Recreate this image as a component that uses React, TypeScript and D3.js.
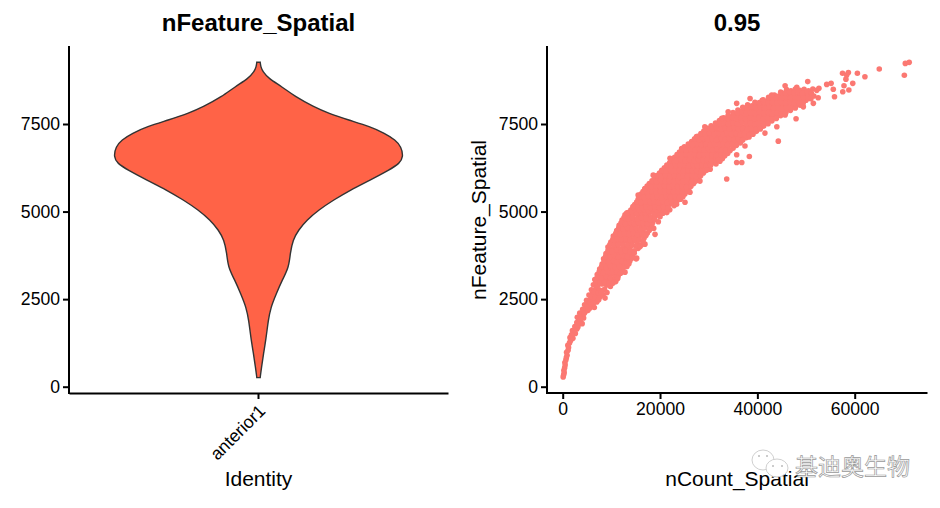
import { useEffect, useRef } from 'react';
import * as d3 from 'd3';

const groupLabels = ['anterior1'];
const yTicks = [0, 2500, 5000, 7500];
const xTicks = [0, 20000, 40000, 60000];

// violin outline: nFeature level and relative width
const violinFeature = [9265, 9259, 9136, 8993, 8803, 8565, 8279, 7994, 7804, 7613, 7423, 7233, 7042, 6852, 6566, 6376, 6186, 5901, 5615, 5330, 5044, 4759, 4473, 4188, 3808, 3408, 3027, 2646, 2266, 1885, 1409, 933, 553, 267, 260];
const violinDensity = [0.012, 0.012, 0.016, 0.03, 0.07, 0.164, 0.257, 0.386, 0.491, 0.631, 0.783, 0.885, 0.96, 1.0, 1.015, 0.99, 0.915, 0.783, 0.643, 0.526, 0.421, 0.339, 0.28, 0.241, 0.222, 0.213, 0.164, 0.124, 0.086, 0.068, 0.054, 0.035, 0.021, 0.012, 0.012];

// scatter spots as [nCount, nFeature]
const spotsLow = [
  [100, 280], [200, 340], [300, 400], [250, 470], [400, 540], [500, 620], [450, 690], [650, 760], [750, 830], [900, 900], [800, 980], [1100, 1040], [1200, 1120], [1050, 1180], [1400, 1250], [1600, 1310], [1500, 1400], [1900, 1460], [2100, 1380], [2200, 1540], [2000, 1600], [2600, 1520], [2900, 1650], [2500, 1720], [3100, 1700], [3300, 1780], [2900, 1830], [3600, 1850], [4000, 1800], [3300, 1950], [3000, 1980], [3900, 2000], [4300, 1960], [3500, 2100], [4600, 2130], [4100, 2210], [4900, 2230], [5600, 2250], [4500, 2340], [5200, 2390], [6000, 2350], [6500, 2260], [4900, 2470], [5700, 2500], [6400, 2480], [7000, 2420], [5400, 2620], [6100, 2660], [7000, 2600], [7700, 2570], [8300, 2620], [8700, 2530], [5900, 2770], [6800, 2790], [7600, 2760], [8600, 2780], [9100, 2690],
  [1800, 1480], [2400, 1620], [3000, 1760], [3700, 1930], [4000, 2100], [4400, 2090], [5200, 2180], [5000, 2310], [5600, 2400], [6300, 2380], [6000, 2570], [6700, 2530], [7400, 2480], [6500, 2700], [7300, 2680], [8000, 2690],
];
const spotsMid = [
  [6300, 2910], [7200, 2880], [8100, 2930], [9000, 2900], [9800, 2860],
  [6600, 3060], [7500, 3030], [8400, 3080], [9300, 3040], [10300, 3060], [10900, 3000],
  [7100, 3200], [7900, 3180], [8800, 3230], [9700, 3190], [10600, 3220], [11400, 3160],
  [7600, 3360], [8500, 3330], [9400, 3380], [10300, 3340], [11200, 3370], [12100, 3320], [12800, 3270],
  [8100, 3500], [9000, 3480], [9900, 3530], [10800, 3490], [11700, 3520], [12600, 3470], [13200, 3430],
  [8400, 3650], [9300, 3640], [10200, 3680], [11100, 3630], [12000, 3670], [12900, 3620], [13800, 3590], [15200, 3670],
  [8900, 3800], [9800, 3780], [10700, 3820], [11600, 3790], [12500, 3810], [13400, 3770], [14300, 3740], [15100, 3650],
  [9300, 3990], [10200, 3940], [11100, 3980], [12000, 3930], [12900, 3970], [13800, 3920], [14700, 3880], [15500, 3950],
  [9900, 4130], [10800, 4170], [11700, 4120], [12600, 4160], [13500, 4110], [14400, 4150], [15300, 4100], [16200, 4050], [16900, 4070],
  [10400, 4300], [11300, 4270], [12200, 4320], [13100, 4280], [14000, 4310], [14900, 4270], [15800, 4300], [16700, 4240],
  [11100, 4460], [12000, 4430], [12900, 4470], [13800, 4420], [14700, 4460], [15600, 4410], [16500, 4450], [17400, 4390], [18970, 4350],
  [11600, 4610], [12500, 4580], [13400, 4620], [14300, 4590], [15200, 4630], [16100, 4570], [17000, 4610], [17900, 4560], [18700, 4520],
  [12200, 4760], [13100, 4730], [14000, 4770], [14900, 4720], [15800, 4760], [16700, 4730], [17600, 4700], [18500, 4690], [19650, 4710],
  [12800, 4910], [13700, 4880], [14600, 4920], [15500, 4870], [16400, 4910], [17300, 4870], [18200, 4840], [19100, 4880], [20000, 4850],
];
const spotsMidInner = [
  [6800, 2970], [7700, 2960], [8600, 2990], [9500, 2960], [10300, 2950],
  [7100, 3120], [8000, 3110], [8900, 3140], [9800, 3110], [10800, 3130], [11300, 3090],
  [7500, 3280], [8400, 3260], [9300, 3300], [10200, 3270], [11100, 3290], [11900, 3240],
  [8000, 3430], [8900, 3410], [9800, 3450], [10700, 3420], [11600, 3440], [12500, 3400],
  [8500, 3570], [9400, 3560], [10300, 3600], [11200, 3560], [12100, 3590], [13000, 3540], [13600, 3510],
  [8800, 3720], [9700, 3710], [10600, 3750], [11500, 3710], [12400, 3740], [13300, 3700], [14200, 3670],
  [9300, 3890], [10200, 3860], [11100, 3900], [12000, 3860], [12900, 3890], [13800, 3850], [14700, 3810],
  [9700, 4060], [10600, 4050], [11500, 4050], [12400, 4050], [13300, 4040], [14200, 4030], [15100, 4020], [15900, 4000],
  [10300, 4210], [11200, 4220], [12100, 4210], [13000, 4220], [13900, 4200], [14800, 4210], [15700, 4190], [16500, 4150],
  [10900, 4380], [11800, 4350], [12700, 4390], [13600, 4350], [14500, 4380], [15400, 4340], [16300, 4370], [17100, 4320],
  [11500, 4530], [12400, 4500], [13300, 4540], [14200, 4500], [15100, 4540], [16000, 4490], [16900, 4530], [17800, 4470],
  [12000, 4680], [12900, 4650], [13800, 4690], [14700, 4650], [15600, 4690], [16500, 4650], [17400, 4650], [18300, 4620],
  [12600, 4830], [13500, 4800], [14400, 4840], [15300, 4790], [16200, 4830], [17100, 4800], [18000, 4770], [18900, 4780],
  [13400, 4970], [14300, 4980], [15200, 4950], [16100, 4980], [17000, 4950], [17900, 4970], [18800, 4950], [19700, 4960], [20600, 4950], [21400, 4970],
];
const spotsUpper = [
  [14000, 5040], [14900, 5070], [15800, 5030], [16700, 5060], [17600, 5020], [18500, 5070], [19400, 5030], [20300, 5060], [21200, 5020], [22000, 5050],
  [14800, 5200], [15700, 5170], [16600, 5220], [17500, 5180], [18400, 5210], [19300, 5170], [20200, 5220], [21100, 5180], [22000, 5210], [22900, 5170],
  [15500, 5350], [16400, 5320], [17300, 5370], [18200, 5330], [19100, 5360], [20000, 5320], [20900, 5370], [21800, 5330], [22700, 5360], [23600, 5320], [24200, 5350],
  [16100, 5500], [17000, 5470], [17900, 5520], [18800, 5480], [19700, 5510], [20600, 5470], [21500, 5520], [22400, 5480], [23300, 5510], [24200, 5470], [25100, 5500],
  [16900, 5650], [17800, 5620], [18700, 5670], [19600, 5630], [20500, 5660], [21400, 5620], [22300, 5670], [23200, 5630], [24100, 5660], [25000, 5620], [25900, 5650],
  [17800, 5800], [18700, 5770], [19600, 5820], [20500, 5780], [21400, 5810], [22300, 5770], [23200, 5820], [24100, 5780], [25000, 5810], [25900, 5770], [26900, 5800],
  [18900, 5950], [19800, 5920], [20700, 5970], [21600, 5930], [22500, 5960], [23400, 5920], [24300, 5970], [25200, 5930], [26100, 5960], [27000, 5920], [27900, 5950],
  [19900, 6100], [20800, 6070], [21700, 6120], [22600, 6080], [23500, 6110], [24400, 6070], [25300, 6120], [26200, 6080], [27100, 6110], [28000, 6070], [28900, 6100],
  [20900, 6250], [21800, 6220], [22700, 6270], [23600, 6230], [24500, 6260], [25400, 6220], [26300, 6270], [27200, 6230], [28100, 6260], [29000, 6220], [29900, 6250], [30300, 6210],
  [22000, 6400], [22900, 6370], [23800, 6420], [24700, 6380], [25600, 6410], [26500, 6370], [27400, 6420], [28300, 6380], [29200, 6410], [30100, 6370], [31000, 6400], [31500, 6360],
  [23000, 6550], [23900, 6520], [24800, 6570], [25700, 6530], [26600, 6560], [27500, 6520], [28400, 6570], [29300, 6530], [30200, 6560], [31100, 6520], [32000, 6550], [32800, 6510],
  [24000, 6700], [24900, 6670], [25800, 6720], [26700, 6680], [27600, 6710], [28500, 6670], [29400, 6720], [30300, 6680], [31200, 6710], [32100, 6670], [33000, 6700], [33900, 6660],
  [25000, 6850], [25900, 6820], [26800, 6870], [27700, 6830], [28600, 6860], [29500, 6820], [30400, 6870], [31300, 6830], [32200, 6860], [33100, 6820], [34000, 6850], [35000, 6810],
  [26500, 7000], [27400, 6970], [28300, 7020], [29200, 6980], [30100, 7010], [31000, 6970], [31900, 7020], [32800, 6980], [33700, 7010], [34600, 6970], [35500, 7000], [36500, 6960],
  [27800, 7150], [28700, 7120], [29600, 7170], [30500, 7130], [31400, 7160], [32300, 7120], [33200, 7170], [34100, 7130], [35000, 7160], [35900, 7120], [36800, 7150], [37700, 7110], [38300, 7130],
  [29000, 7300], [29900, 7270], [30800, 7320], [31700, 7280], [32600, 7310], [33500, 7270], [34400, 7320], [35300, 7280], [36200, 7310], [37100, 7270], [38000, 7300], [38900, 7260], [39800, 7290],
  [30500, 7450], [31400, 7420], [32300, 7470], [33200, 7430], [34100, 7460], [35000, 7420], [35900, 7470], [36800, 7430], [37700, 7460], [38600, 7420], [39500, 7450], [40400, 7410], [41300, 7440],
  [32200, 7600], [33100, 7570], [34000, 7620], [34900, 7580], [35800, 7610], [36700, 7570], [37600, 7620], [38500, 7580], [39400, 7610], [40300, 7570], [41200, 7600], [42100, 7560], [43000, 7590],
  [34000, 7750], [34900, 7720], [35800, 7770], [36700, 7730], [37600, 7760], [38500, 7720], [39400, 7770], [40300, 7730], [41200, 7760], [42100, 7720], [43000, 7750], [43900, 7710], [44800, 7740],
  [36000, 7900], [36900, 7870], [37800, 7920], [38700, 7880], [39600, 7910], [40500, 7870], [41400, 7920], [42300, 7880], [43200, 7910], [44100, 7870], [45000, 7900], [45900, 7860], [46800, 7890],
  [38000, 8050], [38900, 8020], [39800, 8070], [40700, 8030], [41600, 8060], [42500, 8020], [43400, 8070], [44300, 8030], [45200, 8060], [46100, 8020], [47000, 8050], [47900, 8010], [48800, 8040],
  [41000, 8180], [41900, 8150], [42800, 8200], [43700, 8160], [44600, 8190], [45500, 8150], [46400, 8200], [47300, 8160], [48200, 8190], [49100, 8150], [50000, 8180],
  [43500, 8330], [44400, 8300], [45300, 8350], [46200, 8310], [47100, 8340], [48000, 8300], [48900, 8350], [49800, 8310], [50700, 8340], [51600, 8300],
  [46000, 8480], [46900, 8450], [47800, 8500], [48700, 8460], [49600, 8490], [50500, 8450], [51400, 8500], [52200, 8460],
];
const spotsUpperInner = [
  [14450, 5120], [15350, 5130], [16250, 5110], [17150, 5130], [18050, 5110], [18950, 5130], [19850, 5110], [20750, 5130], [21650, 5110],
  [15200, 5275], [16100, 5260], [17000, 5290], [17900, 5260], [18800, 5280], [19700, 5260], [20600, 5290], [21500, 5260], [22400, 5280], [23300, 5250],
  [15850, 5425], [16750, 5410], [17650, 5440], [18550, 5410], [19450, 5430], [20350, 5400], [21250, 5440], [22150, 5410], [23050, 5430], [23950, 5400], [24700, 5420],
  [16500, 5575], [17400, 5560], [18300, 5590], [19200, 5560], [20100, 5580], [21000, 5550], [21900, 5590], [22800, 5560], [23700, 5580], [24600, 5550], [25500, 5570],
  [17350, 5725], [18250, 5710], [19150, 5740], [20050, 5710], [20950, 5730], [21850, 5700], [22750, 5740], [23650, 5710], [24550, 5730], [25450, 5700], [26350, 5720],
  [18350, 5875], [19250, 5860], [20150, 5890], [21050, 5860], [21950, 5880], [22850, 5850], [23750, 5890], [24650, 5860], [25550, 5880], [26450, 5850], [27350, 5870],
  [19350, 6025], [20250, 6010], [21150, 6040], [22050, 6010], [22950, 6030], [23850, 6000], [24750, 6040], [25650, 6010], [26550, 6030], [27450, 6000], [28350, 6020],
  [20350, 6175], [21250, 6160], [22150, 6190], [23050, 6160], [23950, 6180], [24850, 6150], [25750, 6190], [26650, 6160], [27550, 6180], [28450, 6150], [29350, 6170],
  [21400, 6325], [22300, 6310], [23200, 6340], [24100, 6310], [25000, 6330], [25900, 6300], [26800, 6340], [27700, 6310], [28600, 6330], [29500, 6300], [30400, 6320],
  [22500, 6475], [23400, 6460], [24300, 6490], [25200, 6460], [26100, 6480], [27000, 6450], [27900, 6490], [28800, 6460], [29700, 6480], [30600, 6450], [31500, 6470], [32300, 6440],
  [23500, 6625], [24400, 6610], [25300, 6640], [26200, 6610], [27100, 6630], [28000, 6600], [28900, 6640], [29800, 6610], [30700, 6630], [31600, 6600], [32500, 6620], [33300, 6590],
  [24500, 6775], [25400, 6760], [26300, 6790], [27200, 6760], [28100, 6780], [29000, 6750], [29900, 6790], [30800, 6760], [31700, 6780], [32600, 6750], [33500, 6770], [34400, 6740],
  [25800, 6925], [26700, 6910], [27600, 6940], [28500, 6910], [29400, 6930], [30300, 6900], [31200, 6940], [32100, 6910], [33000, 6930], [33900, 6900], [34800, 6920], [35700, 6890],
  [27100, 7075], [28000, 7060], [28900, 7090], [29800, 7060], [30700, 7080], [31600, 7050], [32500, 7090], [33400, 7060], [34300, 7080], [35200, 7050], [36100, 7070], [37000, 7040],
  [28400, 7225], [29300, 7210], [30200, 7240], [31100, 7210], [32000, 7230], [32900, 7200], [33800, 7240], [34700, 7210], [35600, 7230], [36500, 7200], [37400, 7220], [38300, 7190], [39100, 7210],
  [29800, 7375], [30700, 7360], [31600, 7390], [32500, 7360], [33400, 7380], [34300, 7350], [35200, 7390], [36100, 7360], [37000, 7380], [37900, 7350], [38800, 7370], [39700, 7340], [40600, 7360],
  [31400, 7525], [32300, 7510], [33200, 7540], [34100, 7510], [35000, 7530], [35900, 7500], [36800, 7540], [37700, 7510], [38600, 7530], [39500, 7500], [40400, 7520], [41300, 7490], [42200, 7510],
  [33100, 7675], [34000, 7660], [34900, 7690], [35800, 7660], [36700, 7680], [37600, 7650], [38500, 7690], [39400, 7660], [40300, 7680], [41200, 7650], [42100, 7670], [43000, 7640], [43900, 7660],
  [35000, 7825], [35900, 7810], [36800, 7840], [37700, 7810], [38600, 7830], [39500, 7800], [40400, 7840], [41300, 7810], [42200, 7830], [43100, 7800], [44000, 7820], [44900, 7790], [45800, 7810],
  [37000, 7975], [37900, 7960], [38800, 7990], [39700, 7960], [40600, 7980], [41500, 7950], [42400, 7990], [43300, 7960], [44200, 7980], [45100, 7950], [46000, 7970], [46900, 7940], [47800, 7960],
  [39500, 8120], [40400, 8110], [41300, 8130], [42200, 8110], [43100, 8130], [44000, 8100], [44900, 8130], [45800, 8100], [46700, 8120], [47600, 8090], [48500, 8110], [49400, 8090],
  [42300, 8260], [43200, 8240], [44100, 8270], [45000, 8240], [45900, 8270], [46800, 8240], [47700, 8270], [48600, 8240], [49500, 8260], [50400, 8240], [51000, 8220],
  [44800, 8410], [45700, 8390], [46600, 8420], [47500, 8390], [48400, 8420], [49300, 8380], [50200, 8420], [51100, 8380],
];
// stray spots outside the main band, placed individually
const spotsEdge = [
  [14450, 5140], [13150, 4960], [15500, 5470], [16900, 5660], [18600, 6040], [22050, 6520], [24450, 6800], [27500, 7140], [29200, 7420], [32700, 7660], [34000, 7850], [35750, 8090], [38500, 8230], [41200, 8190], [42950, 8330], [45700, 8590], [48100, 8550], [50350, 8710],
  [25130, 5265], [23400, 5210], [26150, 5550], [28200, 5870], [33700, 5930], [29600, 6190], [32000, 6470], [35750, 6400], [36800, 6400], [35750, 6620], [38350, 6570], [37450, 6870], [44300, 7010], [41550, 7240], [44000, 7420], [45700, 7760], [47950, 7650], [49450, 7990], [51500, 8090], [52500, 8250],
  [52650, 8520], [54250, 8630], [55150, 8660], [55600, 8490], [55850, 8280], [57500, 8950], [58350, 8900], [58700, 8970], [58200, 8780], [57800, 8590], [57550, 8420], [58800, 8470], [59600, 8660], [60550, 8950], [62100, 8850], [65050, 9070], [70200, 8890], [70400, 9230], [71200, 9260],
];

const font = '"Liberation Sans", Arial, sans-serif';

export default function App() {
  const svgRef = useRef<SVGSVGElement>(null);

  useEffect(() => {
    if (!svgRef.current) return;
    const svg = d3.select(svgRef.current);
    svg.selectAll('*').remove();

    const y = d3.scaleLinear().domain([0, 7500]).range([386.7, 124]);
    const xScatter = d3.scaleLinear().domain([0, 60000]).range([562.7, 854.7]);
    const xViolin = d3.scaleBand().domain(groupLabels).range([69, 448]);
    const centre = (xViolin(groupLabels[0]) as number) + xViolin.bandwidth() / 2;
    const widthScale = d3.scaleLinear().domain([0, 1]).range([0, 142.7]);

    const styleAxis = (g: any) => {
      g.selectAll('.domain').attr('stroke', '#000').attr('stroke-width', 2);
      g.selectAll('.tick line').attr('stroke', '#000').attr('stroke-width', 2);
      g.selectAll('.tick text').attr('font-family', font).attr('font-size', 17.6).attr('fill', '#000');
    };

    // Left panel
    const violin = d3.area<number>()
      .x0((_, i) => centre - widthScale(violinDensity[i]))
      .x1((_, i) => centre + widthScale(violinDensity[i]))
      .y(d => y(d))
      .curve(d3.curveBasis);

    svg.append('path')
      .attr('d', violin(violinFeature))
      .attr('fill', '#FF6347')
      .attr('stroke', '#333')
      .attr('stroke-width', 1.4);

    const yAxisLeft = svg.append('g')
      .attr('transform', 'translate(69,0)')
      .call(d3.axisLeft(y).tickValues(yTicks).tickFormat(d3.format('d') as any).tickSize(6).tickSizeOuter(0));
    yAxisLeft.select('.domain').attr('d', 'M0,46V394');
    styleAxis(yAxisLeft);

    const xAxisLeft = svg.append('g')
      .attr('transform', 'translate(0,393)')
      .call(d3.axisBottom(xViolin).tickSize(6).tickSizeOuter(0));
    styleAxis(xAxisLeft);
    xAxisLeft.selectAll('.tick text')
      .attr('text-anchor', 'end')
      .attr('dx', 0)
      .attr('dy', 0)
      .attr('y', 0)
      .attr('transform', 'translate(8,19) rotate(-45)');

    // Right panel
    const spots = [...spotsLow, ...spotsMid, ...spotsMidInner, ...spotsUpper, ...spotsUpperInner, ...spotsEdge];
    svg.append('g')
      .selectAll('circle')
      .data(spots)
      .enter()
      .append('circle')
      .attr('cx', d => xScatter(d[0]))
      .attr('cy', d => y(d[1]))
      .attr('r', 2.8)
      .attr('fill', '#FB7872');

    const yAxisRight = svg.append('g')
      .attr('transform', 'translate(547,0)')
      .call(d3.axisLeft(y).tickValues(yTicks).tickFormat(d3.format('d') as any).tickSize(6).tickSizeOuter(0));
    yAxisRight.select('.domain').attr('d', 'M0,46V394');
    styleAxis(yAxisRight);

    const xAxisRight = svg.append('g')
      .attr('transform', 'translate(0,393)')
      .call(d3.axisBottom(xScatter).tickValues(xTicks).tickFormat(d3.format('d') as any).tickSize(6).tickSizeOuter(0));
    xAxisRight.select('.domain').attr('d', 'M547,0H927.5');
    styleAxis(xAxisRight);
    xAxisRight.selectAll('.tick text').attr('y', 10);

    // Titles
    const label = (text: string, x: number, yPos: number, size: number, weight = 'normal', rotate = false) =>
      svg.append('text')
        .attr('transform', `translate(${x},${yPos})${rotate ? ' rotate(-90)' : ''}`)
        .attr('text-anchor', 'middle')
        .attr('font-family', font)
        .attr('font-size', size)
        .attr('font-weight', weight)
        .attr('fill', '#000')
        .text(text);

    label('nFeature_Spatial', 258.5, 31, 24, 'bold');
    label('0.95', 737, 31, 24, 'bold');
    label('Identity', 258.5, 486, 21);
    label('nCount_Spatial', 737, 486, 21);
    label('nFeature_Spatial', 486, 220, 21, 'normal', true);

    // Watermark
    const mark = svg.append('g').attr('fill', '#fff').attr('stroke', '#d0d0d0').attr('stroke-width', 1);
    mark.append('ellipse').attr('cx', 763).attr('cy', 460).attr('rx', 11).attr('ry', 10);
    mark.append('ellipse').attr('cx', 777).attr('cy', 468).attr('rx', 11).attr('ry', 9);
    [[759, 456], [767, 456], [773, 466], [782, 466]].forEach(([cx, cy]) => {
      svg.append('circle').attr('cx', cx).attr('cy', cy).attr('r', 1).attr('fill', '#bbb');
    });
    svg.append('text')
      .attr('x', 795)
      .attr('y', 475)
      .attr('font-family', '"Noto Sans CJK SC"')
      .attr('font-size', 23)
      .attr('fill', '#fff')
      .attr('stroke', '#999')
      .attr('stroke-width', 0.7)
      .text('基迪奥生物');
  }, []);

  return (
    <svg
      ref={svgRef}
      width={940}
      height={508}
      style={{ position: 'absolute', left: 0, top: 0, background: '#fff' }}
    />
  );
}
